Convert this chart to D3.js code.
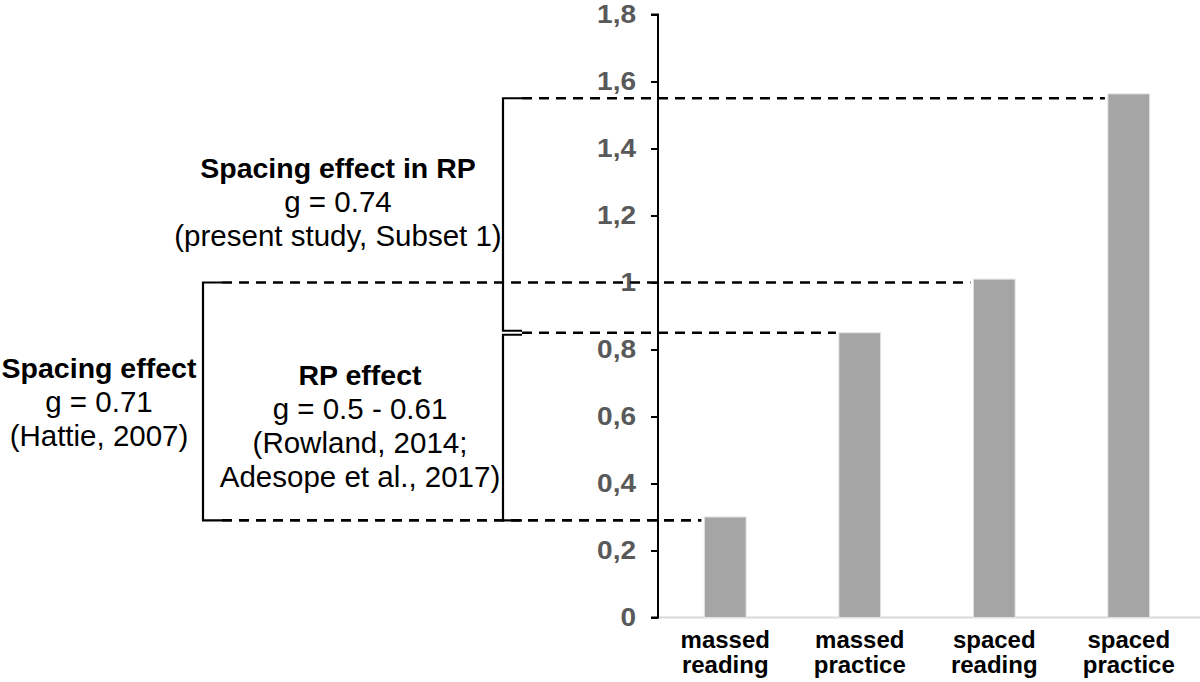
<!DOCTYPE html>
<html><head><meta charset="utf-8">
<script src="https://cdn.jsdelivr.net/npm/d3@7"></script>
<style>
html,body{margin:0;padding:0;background:#fff;}
svg{display:block;font-family:"Liberation Sans",Arial,Helvetica,sans-serif;}
</style></head>
<body><svg id="c" width="1200" height="682"></svg>
<script>
const categories = ["massed reading","massed practice","spaced reading","spaced practice"];
const values = [0.30, 0.85, 1.01, 1.563];
const yTicks = [0,0.2,0.4,0.6,0.8,1.0,1.2,1.4,1.6,1.8];
const yTickLabels = ["0","0,2","0,4","0,6","0,8","1","1,2","1,4","1,6","1,8"];
// reference levels (dashed lines) and the bar each one reaches
const refLevels = [1.55, 1.0, 0.85, 0.29];
const refBars = ["spaced practice","spaced reading","massed practice","massed reading"];
// brackets: [top level, bottom level]
const bracketTops = [1.55, 1.0, 0.85];
const bracketBottoms = [0.85, 0.29, 0.29];
const annoTitles = ["Spacing effect in RP","Spacing effect","RP effect"];
const annoStats = ["g = 0.74","g = 0.71","g = 0.5 - 0.61"];
const annoSources = [["(present study, Subset 1)"],["(Hattie, 2007)"],["(Rowland, 2014;","Adesope et al., 2017)"]];

const svg = d3.select("#c");
const axisX = 658, yBottom = 617.5, yTop = 14.5, xRight = 1196;
const y = d3.scaleLinear().domain([0,1.8]).range([yBottom,yTop]);
const x = d3.scaleBand().domain(categories).range([axisX,xRight]).paddingInner(0.69).paddingOuter(0.345);

// x baseline
svg.append("line").attr("x1",axisX).attr("x2",1200).attr("y1",y(0)).attr("y2",y(0))
  .attr("stroke","#d9d9d9").attr("stroke-width",2);

// bars
svg.append("g").selectAll("rect").data(categories).join("rect")
  .attr("x",d=>x(d)).attr("width",x.bandwidth())
  .attr("y",(d,i)=>y(values[i])).attr("height",(d,i)=>y(0)-y(values[i]))
  .attr("fill","#a5a5a5").attr("stroke","#e2e2e2").attr("stroke-width",1);

// y axis
const sx = 1.12;
const yAxis = d3.axisLeft(y).tickValues(yTicks).tickFormat((d,i)=>yTickLabels[i]).tickSize(7).tickPadding(15);
const gy = svg.append("g").attr("transform",`translate(${axisX},0)`).call(yAxis);
gy.select(".domain").attr("stroke","#000").attr("stroke-width",2).attr("d",`M-7,${yTop}H0V${yBottom}H-7`);
gy.selectAll(".tick line").attr("stroke","#000").attr("stroke-width",2);
gy.selectAll(".tick text").attr("fill","#595959").attr("font-size",25).attr("font-weight","bold")
  .attr("font-family","'Liberation Sans',Arial,sans-serif")
  .attr("x",-22/sx).attr("transform",`scale(${sx},1)`);

// x labels
const gx = svg.append("g");
categories.forEach(c=>{
  const words = c.split(" ");
  const t = gx.append("text").attr("x",x(c)+x.bandwidth()/2).attr("y",648)
    .attr("text-anchor","middle").attr("font-size",24).attr("font-weight","bold").attr("fill","#000");
  words.forEach((w,i)=>t.append("tspan").attr("x",x(c)+x.bandwidth()/2).attr("dy",i===0?0:25).text(w));
});

// dashed reference lines
const lineStart = [503, 203, 503, 203];
const ga = svg.append("g");
refLevels.forEach((v,i)=>{
  ga.append("line").attr("x1",lineStart[i]+19).attr("x2",x(refBars[i])-3)
    .attr("y1",y(v)).attr("y2",y(v))
    .attr("stroke","#000").attr("stroke-width",2.6).attr("stroke-dasharray","10,7");
});

// brackets
const bracketX = [503, 203, 503];
bracketTops.forEach((t,i)=>{
  const bx = bracketX[i];
  const yt = y(t) + (i===2?2:0), yb = y(bracketBottoms[i]) - (i===0?2:0);
  ga.append("path").attr("d",`M${bx+19},${yt}H${bx}V${yb}H${bx+19}`)
    .attr("fill","none").attr("stroke","#000").attr("stroke-width",2.2);
});

// annotation text
const textX = [338, 99, 360];
const textY = [178, 378, 385];
annoTitles.forEach((title,i)=>{
  const t = ga.append("text").attr("text-anchor","middle").attr("fill","#000");
  t.append("tspan").attr("x",textX[i]).attr("y",textY[i]).attr("font-weight","bold").attr("font-size",28.5).text(title);
  t.append("tspan").attr("x",textX[i]).attr("dy",34).attr("font-size",29.5).text(annoStats[i]);
  annoSources[i].forEach(s=>t.append("tspan").attr("x",textX[i]).attr("dy",34).attr("font-size",29.5).text(s));
});
</script></body></html>
